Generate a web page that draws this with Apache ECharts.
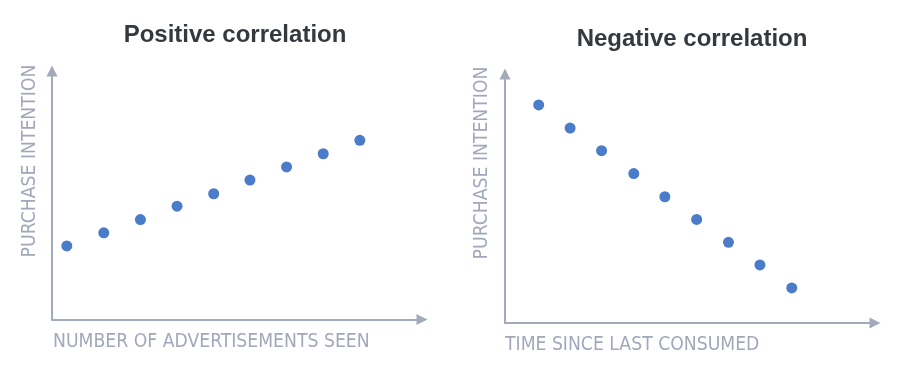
<!DOCTYPE html>
<html><head><meta charset="utf-8">
<script src="https://cdn.jsdelivr.net/npm/echarts@6/dist/echarts.min.js"></script>
<style>html,body{margin:0;padding:0;background:#fff}#c{width:912px;height:372px}</style>
</head><body><div id="c"></div>
<script>
const titles = ['Positive correlation', 'Negative correlation'];
const xNames = ['NUMBER OF ADVERTISEMENTS SEEN', 'TIME SINCE LAST CONSUMED'];
const yName = 'PURCHASE INTENTION';
const posX = [0.40, 1.40, 2.39, 3.38, 4.37, 5.35, 6.34, 7.33, 8.32];
const posY = [2.96, 3.49, 4.02, 4.56, 5.06, 5.61, 6.14, 6.67, 7.21];
const negX = [0.91, 1.76, 2.61, 3.48, 4.32, 5.18, 6.04, 6.89, 7.75];
const negY = [8.76, 7.83, 6.92, 6.00, 5.07, 4.16, 3.24, 2.33, 1.41];

const axisColor = '#a3aabb';
const labelColor = '#a0a8ba';
const dotColor = '#4a7cc9';
const labelFont = '19.2px "DejaVu Sans Condensed", "Liberation Sans Narrow", sans-serif';

function zip(a, b) { return a.map((v, i) => [v, b[i]]); }
function axisCommon(gi) {
  return {
    gridIndex: gi, type: 'value', min: 0, max: 10,
    axisLine: { show: true, symbol: ['none', 'triangle'], symbolSize: [11, 11],
      lineStyle: { color: axisColor, width: 2 } },
    axisTick: { show: false }, axisLabel: { show: false }, splitLine: { show: false }
  };
}
const chart = echarts.init(document.getElementById('c'), null, { renderer: 'canvas' });
chart.setOption({
  animation: false,
  grid: [
    { left: 52, top: 71, width: 370, height: 248.5 },
    { left: 505, top: 74, width: 370, height: 249 }
  ],
  xAxis: [axisCommon(0), axisCommon(1)],
  yAxis: [axisCommon(0), axisCommon(1)],
  series: [
    { type: 'scatter', xAxisIndex: 0, yAxisIndex: 0, data: zip(posX, posY),
      symbolSize: 11, itemStyle: { color: dotColor, opacity: 1 } },
    { type: 'scatter', xAxisIndex: 1, yAxisIndex: 1, data: zip(negX, negY),
      symbolSize: 11, itemStyle: { color: dotColor, opacity: 1 } }
  ],
  graphic: [
    { type: 'text', x: 235, y: 35, style: { text: titles[0], font: 'bold 24px "Liberation Sans", Arial, sans-serif', fill: '#333a3f', textAlign: 'center', textVerticalAlign: 'middle' } },
    { type: 'text', x: 692, y: 39, style: { text: titles[1], font: 'bold 24px "Liberation Sans", Arial, sans-serif', fill: '#333a3f', textAlign: 'center', textVerticalAlign: 'middle' } },
    { type: 'text', x: 30, y: 161, rotation: Math.PI / 2, style: { text: yName, font: labelFont, fill: labelColor, textAlign: 'center', textVerticalAlign: 'middle' } },
    { type: 'text', x: 482, y: 163, rotation: Math.PI / 2, style: { text: yName, font: labelFont, fill: labelColor, textAlign: 'center', textVerticalAlign: 'middle' } },
    { type: 'text', x: 53, y: 342, style: { text: xNames[0], font: labelFont, fill: labelColor, textAlign: 'left', textVerticalAlign: 'middle' } },
    { type: 'text', x: 505, y: 345, style: { text: xNames[1], font: labelFont, fill: labelColor, textAlign: 'left', textVerticalAlign: 'middle' } }
  ]
});
</script></body></html>
